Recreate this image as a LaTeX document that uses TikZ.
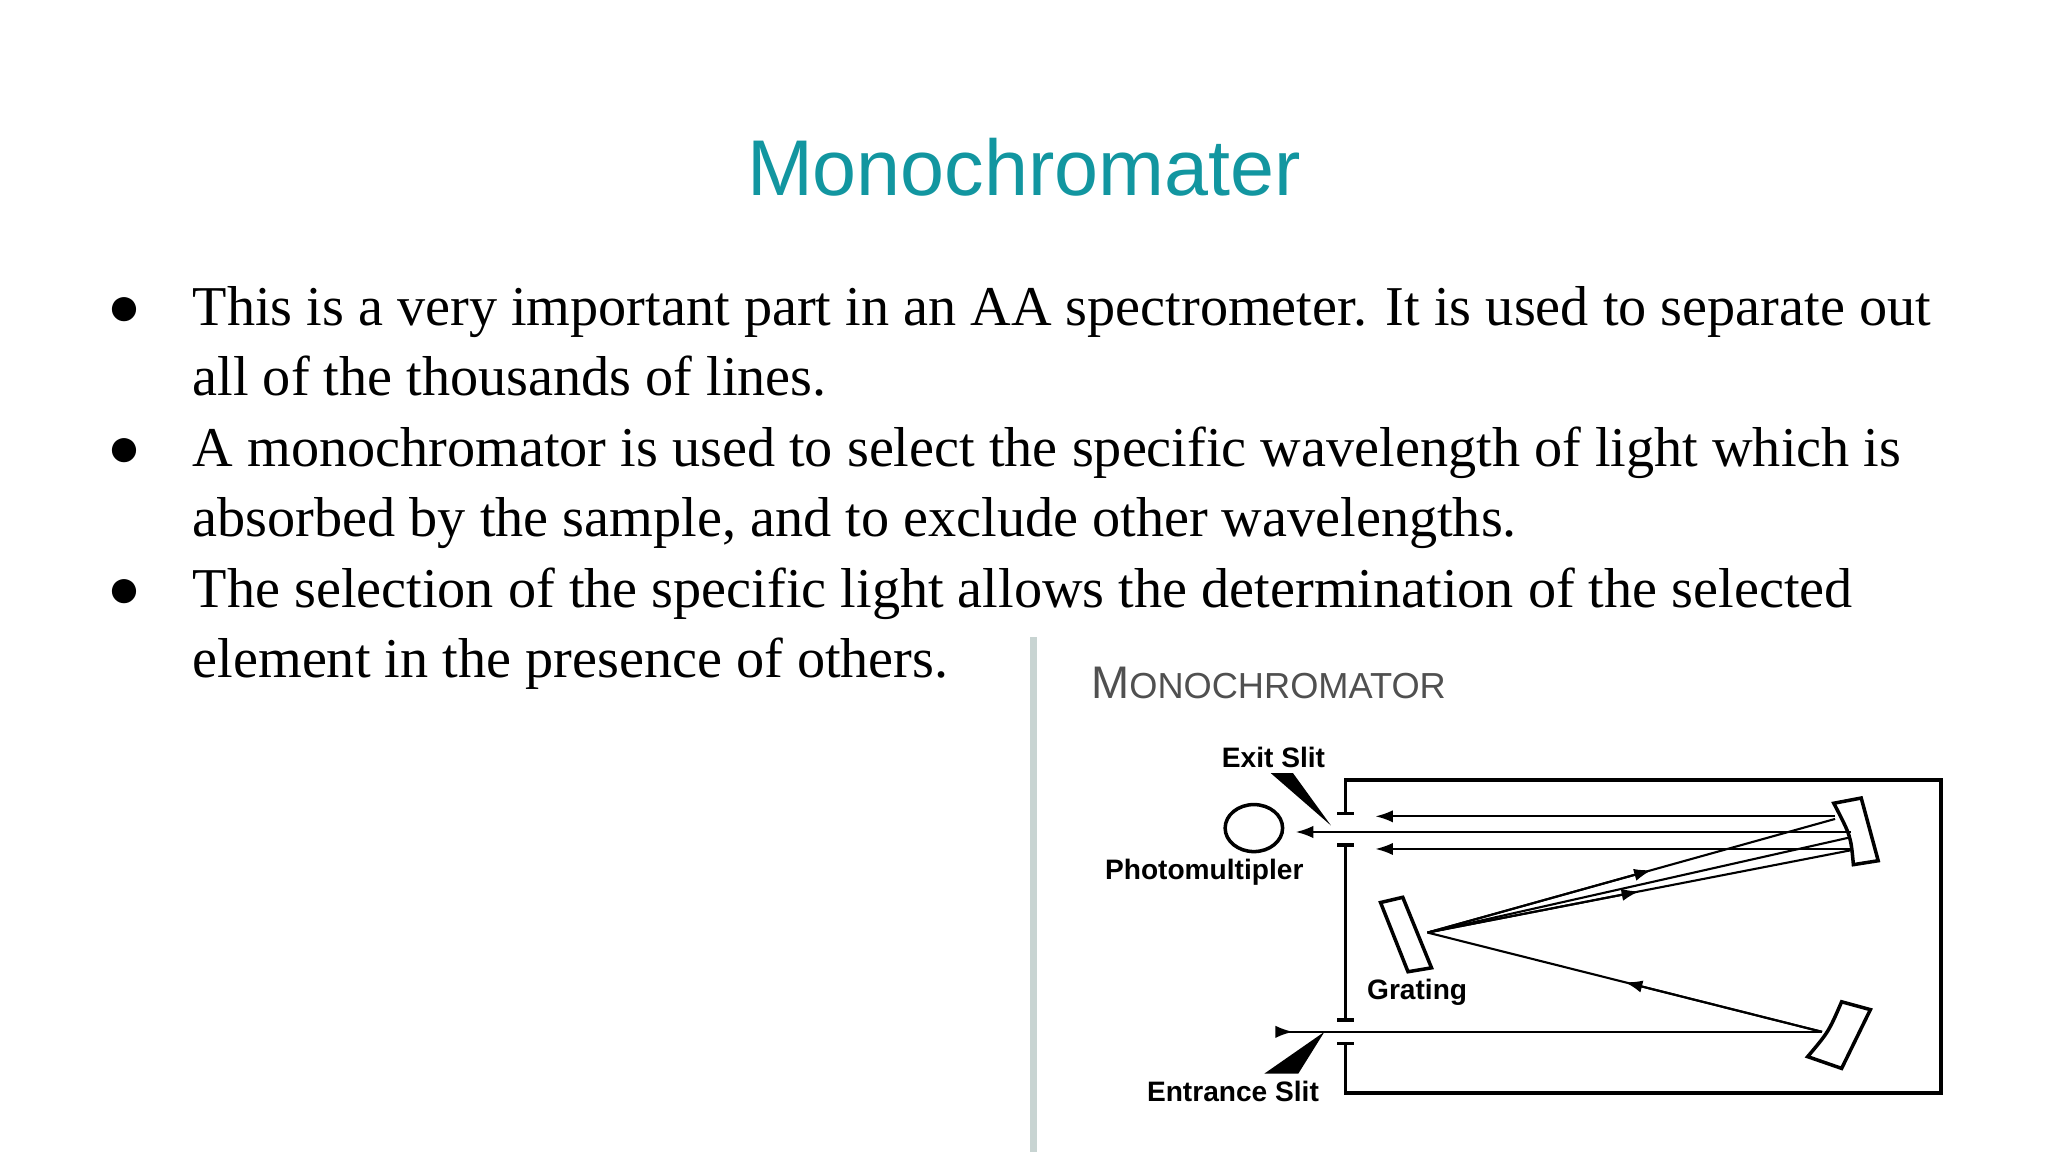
\documentclass[tikz,border=0pt]{standalone}
\usepackage{fontspec}
\setmainfont{Liberation Serif}
\setsansfont{Liberation Sans}
\usetikzlibrary{arrows.meta,calc}
\definecolor{teal1}{RGB}{18,150,160}
\definecolor{dgray}{RGB}{80,80,80}
\tikzset{
  ln/.style={line width=1pt, black},
  ray/.style={line width=0.6pt, black},
  tip/.style={-{Latex[length=5pt,width=3.5pt]}},
  lbl/.style={font=\sffamily\bfseries\fontsize{8}{10}\selectfont, inner sep=0pt},
  body/.style={font=\fontsize{16}{19}\selectfont, anchor=base west, inner sep=0pt},
}
\begin{document}
\begin{tikzpicture}[x=0.013061cm,y=-0.013061cm]
\useasboundingbox (0,0) rectangle (1568,882);
\fill[white] (0,0) rectangle (1568,882);
% title
\node[font=\sffamily\fontsize{22.5}{26}\selectfont, text=teal1, inner sep=0pt] (title) at (784,128) {Monochromater};
% bullets
\foreach \yy in {249,357,465}{\node[font=\fontsize{16}{16}\selectfont, inner sep=0pt, anchor=base] at (95,\yy) {●};}
\node[body] (l1) at (147,249) {This is a very important part in an AA spectrometer. It is used to separate out};
\node[body] (l2) at (147,303) {all of the thousands of lines.};
\node[body] (l3) at (147,357) {A monochromator is used to select the specific wavelength of light which is};
\node[body] (l4) at (147,411) {absorbed by the sample, and to exclude other wavelengths.};
\node[body] (l5) at (147,465) {The selection of the specific light allows the determination of the selected};
\node[body] (l6) at (147,519) {element in the presence of others.};
% separator
\draw[line width=2pt, color={rgb,255:red,200;green,212;blue,210}] (791,488) -- (791,882);
% diagram heading
\node[font=\sffamily, text=dgray, anchor=base west, inner sep=0pt] (head) at (835,535) {{\fontsize{13}{14}\selectfont M}{\fontsize{10.3}{12}\selectfont ONOCHROMATOR}};
% box
\draw[ln] (1030,623) -- (1030,597) -- (1486,597) -- (1486,837) -- (1030,837) -- (1030,799);
\draw[ln] (1030,647) -- (1030,781);
\foreach \yy in {623,647,781,799}{\draw[ln] (1024,\yy) -- (1037,\yy);}
% slits
\fill (973,592) -- (990,592) -- (1019,632) -- cycle;
\fill (968,822) -- (994,822) -- (1014,790) -- cycle;
% photomultiplier
\draw[ln] (960,634) ellipse [x radius=22, y radius=18];
\node (pm) at (960,634) {};
% mirrors
\draw[ln] (1404,615) -- (1425,611) -- (1438,659) -- (1419,662) .. controls (1417,640) .. (1404,615) -- cycle;
\draw[ln] (1057,691) -- (1074,687) -- (1096,741) -- (1078,744) -- cycle;
\draw[ln] (1410,767) -- (1432,773) -- (1410,818) -- (1384,809) .. controls (1400,790) .. (1410,767) -- cycle;
% ray coordinates
\coordinate (ein) at (977,790);
\coordinate (lm) at (1395,790);
\coordinate (gr) at (1093,714);
\coordinate (um1) at (1405,627);
\coordinate (um2) at (1417,641);
\coordinate (um3) at (1417,651);
\coordinate (x1) at (1053,625);
\coordinate (x2) at (992,637);
\coordinate (x3) at (1053,650);
% rays
\draw[ray] (ein) -- (lm);
\draw[ray,tip] (ein) -- (990,790);
\draw[ray] (lm) -- (gr);
\draw[ray,tip] (lm) -- ($(lm)!0.5!(gr)$);
\draw[ray] (gr) -- (um1);
\draw[ray] (gr) -- (um2);
\draw[ray] (gr) -- (um3);
\draw[ray,tip] (gr) -- ($(gr)!0.55!(um1)$);
\draw[ray,tip] (gr) -- ($(gr)!0.5!(um3)$);
\draw[ray,tip] (1405,625) -- (x1);
\draw[ray,tip] (1417,637) -- (x2);
\draw[ray,tip] (1417,650) -- (x3);
% labels
\node[lbl] (exitl) at (975,580) {Exit Slit};
\node[lbl] (pml) at (922,668) {Photomultipler};
\node[lbl] (gl) at (1085,760) {Grating};
\node[lbl] (entl) at (944,836) {Entrance Slit};
\end{tikzpicture}
\end{document}
